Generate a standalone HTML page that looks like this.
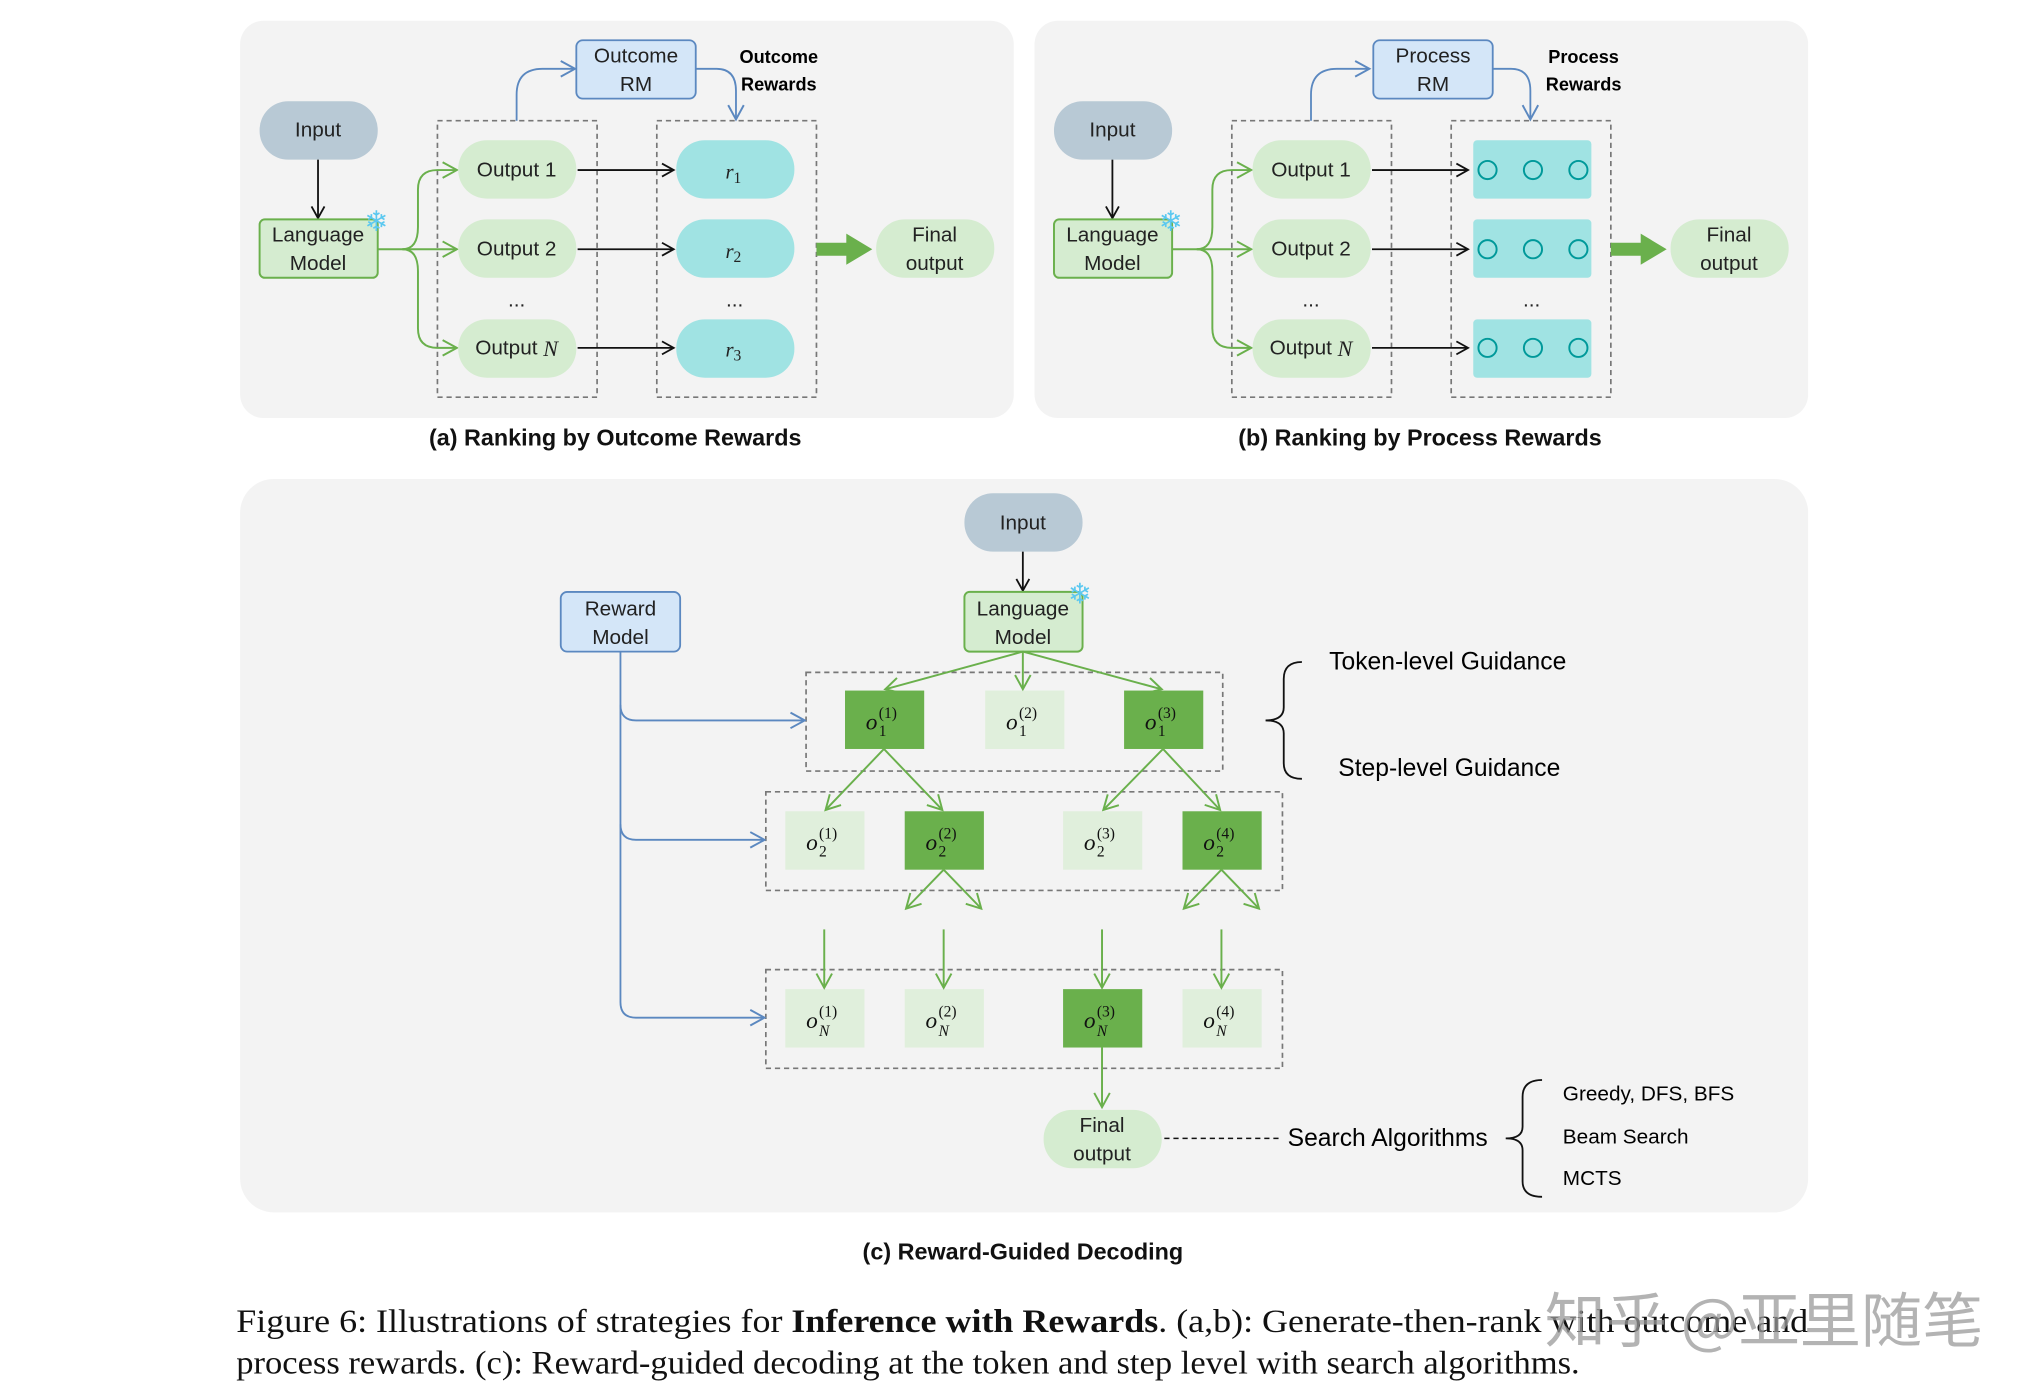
<!DOCTYPE html>
<html><head><meta charset="utf-8"><style>
html,body{margin:0;padding:0;background:#fff;}
svg{display:block;}
text{font-family:"Liberation Sans","Noto Sans CJK SC",sans-serif;}
.l{font-size:16px;fill:#222;text-anchor:middle;dominant-baseline:central;}
.m{font-family:"Liberation Serif",serif;font-style:italic;}
.ser, .ser text{font-family:"Liberation Serif",serif;}
.cjk{font-family:"Noto Sans CJK SC","WenQuanYi Zen Hei",sans-serif;}
.sf{font-family:"DejaVu Sans",sans-serif;}
.cap{font-size:18px;font-weight:bold;fill:#111;text-anchor:middle;dominant-baseline:central;}
</style></head><body>
<svg width="2034" height="1398" viewBox="0 0 1567 1077" preserveAspectRatio="none" xmlns="http://www.w3.org/2000/svg">
<defs>
<marker id="ak" markerWidth="12" markerHeight="12" refX="10" refY="6" orient="auto" markerUnits="userSpaceOnUse"><path d="M1,1 L10,6 L1,11" fill="none" stroke="#111" stroke-width="1.4"/></marker>
<marker id="ag" markerWidth="14" markerHeight="14" refX="12" refY="7" orient="auto" markerUnits="userSpaceOnUse"><path d="M1,1 L12,7 L1,13" fill="none" stroke="#6ab04c" stroke-width="1.5"/></marker>
<marker id="ab" markerWidth="14" markerHeight="14" refX="12" refY="7" orient="auto" markerUnits="userSpaceOnUse"><path d="M1,1 L12,7 L1,13" fill="none" stroke="#5b88c0" stroke-width="1.5"/></marker>
</defs>
<rect width="1567" height="1077" fill="#fff"/>
<rect x="185" y="16" width="596" height="306" rx="18" fill="#f3f3f3"/>
<rect x="797" y="16" width="596" height="306" rx="18" fill="#f3f3f3"/>
<rect x="185" y="369" width="1208" height="565" rx="26" fill="#f3f3f3"/>

<g id="pa">
<rect x="200" y="78" width="91" height="45" rx="22" fill="#b8c9d5"/><text class="l" x="245" y="100">Input</text>
<line x1="245" y1="123" x2="245" y2="168" stroke="#111" stroke-width="1.4" marker-end="url(#ak)"/>
<rect x="200" y="169" width="91" height="45" rx="4" fill="#d5ecd0" stroke="#6ab04c" stroke-width="1.5"/>
<text class="l" x="245" y="181">Language</text><text class="l" x="245" y="203">Model</text>
<text class="sf" x="290" y="178" font-size="22" fill="#5bc8f0" text-anchor="middle">❄</text>
<rect x="337" y="93" width="123" height="213" fill="none" stroke="#777" stroke-dasharray="4 3" stroke-width="1.3"/>
<rect x="506" y="93" width="123" height="213" fill="none" stroke="#777" stroke-dasharray="4 3" stroke-width="1.3"/>
<path d="M291,192 H352" stroke="#6ab04c" stroke-width="1.5" fill="none" marker-end="url(#ag)"/>
<path d="M310,192 Q322,192 322,175 V146 Q322,131 337,131 H352" stroke="#6ab04c" stroke-width="1.5" fill="none" marker-end="url(#ag)"/>
<path d="M310,192 Q322,192 322,209 V253 Q322,268 337,268 H352" stroke="#6ab04c" stroke-width="1.5" fill="none" marker-end="url(#ag)"/>
<rect x="353" y="108" width="91" height="45" rx="22" fill="#d5ecd0"/>
<rect x="353" y="169" width="91" height="45" rx="22" fill="#d5ecd0"/>
<rect x="353" y="246" width="91" height="45" rx="22" fill="#d5ecd0"/>
<text class="l" x="398" y="131">Output 1</text><text class="l" x="398" y="192">Output 2</text>
<text class="l" x="398" y="268" font-size="15">Output <tspan class="m" font-size="17">N</tspan></text>
<text class="l" x="398" y="231">...</text>
<line x1="445" y1="131" x2="519" y2="131" stroke="#111" stroke-width="1.4" marker-end="url(#ak)"/>
<line x1="445" y1="192" x2="519" y2="192" stroke="#111" stroke-width="1.4" marker-end="url(#ak)"/>
<line x1="445" y1="268" x2="519" y2="268" stroke="#111" stroke-width="1.4" marker-end="url(#ak)"/>
<path d="M398,93 V73 Q398,53 418,53 H443" stroke="#5b88c0" stroke-width="1.4" fill="none" marker-end="url(#ab)"/>
<path d="M536,53 H552 Q567,53 567,70 V92" stroke="#5b88c0" stroke-width="1.4" fill="none" marker-end="url(#ab)"/>
<polygon points="629,187 652,187 652,180 672,192 652,204 652,197 629,197" fill="#6ab04c"/>
<rect x="675" y="169" width="91" height="45" rx="22" fill="#d5ecd0"/>
<text class="l" x="720" y="181">Final</text><text class="l" x="720" y="203">output</text>
</g>
<rect x="444" y="31" width="92" height="45" rx="5" fill="#d4e6f8" stroke="#5b88c0" stroke-width="1.4"/>
<text class="l" x="490" y="43">Outcome</text><text class="l" x="490" y="65">RM</text>
<text x="600" y="44" font-size="14" font-weight="bold" text-anchor="middle" dominant-baseline="central">Outcome</text>
<text x="600" y="65" font-size="14" font-weight="bold" text-anchor="middle" dominant-baseline="central">Rewards</text>
<rect x="521" y="108" width="91" height="45" rx="22" fill="#a0e3e3"/>
<rect x="521" y="169" width="91" height="45" rx="22" fill="#a0e3e3"/>
<rect x="521" y="246" width="91" height="45" rx="22" fill="#a0e3e3"/>
<text class="l m" x="565" y="133" font-size="17">r<tspan font-size="12" font-style="normal" dy="4">1</tspan></text>
<text class="l m" x="565" y="194" font-size="17">r<tspan font-size="12" font-style="normal" dy="4">2</tspan></text>
<text class="l m" x="565" y="270" font-size="17">r<tspan font-size="12" font-style="normal" dy="4">3</tspan></text>
<text class="l" x="566" y="231">...</text>
<text class="cap" x="474" y="337">(a) Ranking by Outcome Rewards</text>

<use href="#pa" x="612"/>
<rect x="1058" y="31" width="92" height="45" rx="5" fill="#d4e6f8" stroke="#5b88c0" stroke-width="1.4"/>
<text class="l" x="1104" y="43">Process</text><text class="l" x="1104" y="65">RM</text>
<text x="1220" y="44" font-size="14" font-weight="bold" text-anchor="middle" dominant-baseline="central">Process</text>
<text x="1220" y="65" font-size="14" font-weight="bold" text-anchor="middle" dominant-baseline="central">Rewards</text>
<g fill="none" stroke="#00999a" stroke-width="1.5">
<rect x="1135" y="108" width="91" height="45" rx="3" fill="#a0e3e3" stroke="none"/>
<rect x="1135" y="169" width="91" height="45" rx="3" fill="#a0e3e3" stroke="none"/>
<rect x="1135" y="246" width="91" height="45" rx="3" fill="#a0e3e3" stroke="none"/>
<circle cx="1146" cy="131" r="7"/><circle cx="1181" cy="131" r="7"/><circle cx="1216" cy="131" r="7"/>
<circle cx="1146" cy="192" r="7"/><circle cx="1181" cy="192" r="7"/><circle cx="1216" cy="192" r="7"/>
<circle cx="1146" cy="268" r="7"/><circle cx="1181" cy="268" r="7"/><circle cx="1216" cy="268" r="7"/>
</g>
<text class="l" x="1180" y="231">...</text>
<text class="cap" x="1094" y="337">(b) Ranking by Process Rewards</text>

<rect x="743" y="380" width="91" height="45" rx="22" fill="#b8c9d5"/><text class="l" x="788" y="403">Input</text>
<line x1="788" y1="425" x2="788" y2="455" stroke="#111" stroke-width="1.4" marker-end="url(#ak)"/>
<rect x="743" y="456" width="91" height="46" rx="4" fill="#d5ecd0" stroke="#6ab04c" stroke-width="1.5"/>
<text class="l" x="788" y="469">Language</text><text class="l" x="788" y="491">Model</text>
<text class="sf" x="832" y="465" font-size="22" fill="#5bc8f0" text-anchor="middle">❄</text>
<rect x="432" y="456" width="92" height="46" rx="5" fill="#d4e6f8" stroke="#5b88c0" stroke-width="1.4"/>
<text class="l" x="478" y="469">Reward</text><text class="l" x="478" y="491">Model</text>

<g fill="none" stroke="#777" stroke-dasharray="4 3" stroke-width="1.3">
<rect x="621" y="518" width="321" height="76"/>
<rect x="590" y="610" width="398" height="76"/>
<rect x="590" y="747" width="398" height="76"/>
</g>
<g fill="none" stroke="#5b88c0" stroke-width="1.4">
<path d="M478,502 V772 Q478,784 490,784 H589" marker-end="url(#ab)"/>
<path d="M478,543 Q478,555 490,555 H620" marker-end="url(#ab)"/>
<path d="M478,635 Q478,647 490,647 H589" marker-end="url(#ab)"/>
</g>
<g>
<rect x="651" y="532" width="61" height="45" fill="#6ab04c"/>
<rect x="759" y="532" width="61" height="45" fill="#e0efdc"/>
<rect x="866" y="532" width="61" height="45" fill="#6ab04c"/>
<rect x="605" y="625" width="61" height="45" fill="#e0efdc"/>
<rect x="697" y="625" width="61" height="45" fill="#6ab04c"/>
<rect x="819" y="625" width="61" height="45" fill="#e0efdc"/>
<rect x="911" y="625" width="61" height="45" fill="#6ab04c"/>
<rect x="605" y="762" width="61" height="45" fill="#e0efdc"/>
<rect x="697" y="762" width="61" height="45" fill="#e0efdc"/>
<rect x="819" y="762" width="61" height="45" fill="#6ab04c"/>
<rect x="911" y="762" width="61" height="45" fill="#e0efdc"/>
</g>
<g class="ser" fill="#111">
<g font-size="18" font-style="italic">
<text x="667" y="562">o</text><text x="775" y="562">o</text><text x="882" y="562">o</text>
<text x="621" y="655">o</text><text x="713" y="655">o</text><text x="835" y="655">o</text><text x="927" y="655">o</text>
<text x="621" y="792">o</text><text x="713" y="792">o</text><text x="835" y="792">o</text><text x="927" y="792">o</text>
</g>
<g font-size="12">
<text x="677" y="567">1</text><text x="785" y="567">1</text><text x="892" y="567">1</text>
<text x="677" y="553">(1)</text><text x="785" y="553">(2)</text><text x="892" y="553">(3)</text>
<text x="631" y="660">2</text><text x="723" y="660">2</text><text x="845" y="660">2</text><text x="937" y="660">2</text>
<text x="631" y="646">(1)</text><text x="723" y="646">(2)</text><text x="845" y="646">(3)</text><text x="937" y="646">(4)</text>
<text x="631" y="798" font-style="italic">N</text><text x="723" y="798" font-style="italic">N</text><text x="845" y="798" font-style="italic">N</text><text x="937" y="798" font-style="italic">N</text>
<text x="631" y="783">(1)</text><text x="723" y="783">(2)</text><text x="845" y="783">(3)</text><text x="937" y="783">(4)</text>
</g></g>
<g stroke="#6ab04c" stroke-width="1.5" fill="none">
<line x1="788" y1="502" x2="682" y2="531" marker-end="url(#ag)"/>
<line x1="788" y1="502" x2="788" y2="531" marker-end="url(#ag)"/>
<line x1="788" y1="502" x2="895" y2="531" marker-end="url(#ag)"/>
<line x1="681" y1="577" x2="636" y2="624" marker-end="url(#ag)"/>
<line x1="681" y1="577" x2="726" y2="624" marker-end="url(#ag)"/>
<line x1="896" y1="577" x2="850" y2="624" marker-end="url(#ag)"/>
<line x1="896" y1="577" x2="940" y2="624" marker-end="url(#ag)"/>
<line x1="727" y1="670" x2="698" y2="700" marker-end="url(#ag)"/>
<line x1="727" y1="670" x2="756" y2="700" marker-end="url(#ag)"/>
<line x1="941" y1="670" x2="912" y2="700" marker-end="url(#ag)"/>
<line x1="941" y1="670" x2="970" y2="700" marker-end="url(#ag)"/>
<line x1="635" y1="716" x2="635" y2="761" marker-end="url(#ag)"/>
<line x1="727" y1="716" x2="727" y2="761" marker-end="url(#ag)"/>
<line x1="849" y1="716" x2="849" y2="761" marker-end="url(#ag)"/>
<line x1="941" y1="716" x2="941" y2="761" marker-end="url(#ag)"/>
<line x1="849" y1="807" x2="849" y2="853" marker-end="url(#ag)"/>
</g>
<rect x="804" y="855" width="91" height="45" rx="22" fill="#d5ecd0"/>
<text class="l" x="849" y="867">Final</text><text class="l" x="849" y="889">output</text>
<line x1="897" y1="877" x2="985" y2="877" stroke="#111" stroke-width="1.2" stroke-dasharray="4 3"/>
<text x="992" y="877" font-size="19" dominant-baseline="central">Search Algorithms</text>
<path d="M1188,832 Q1173,832 1173,845 V868 Q1173,877 1160,877 Q1173,877 1173,886 V910 Q1173,922 1188,922" fill="none" stroke="#111" stroke-width="1.4"/>
<text x="1204" y="843" font-size="16" dominant-baseline="central">Greedy, DFS, BFS</text>
<text x="1204" y="876" font-size="16" dominant-baseline="central">Beam Search</text>
<text x="1204" y="908" font-size="16" dominant-baseline="central">MCTS</text>
<path d="M1003,510 Q989,510 989,523 V545 Q989,555 975,555 Q989,555 989,565 V588 Q989,600 1003,600" fill="none" stroke="#111" stroke-width="1.4"/>
<text x="1024" y="510" font-size="19" dominant-baseline="central">Token-level Guidance</text>
<text x="1031" y="592" font-size="19" dominant-baseline="central">Step-level Guidance</text>
<text class="cap" x="788" y="964">(c) Reward-Guided Decoding</text>

<g class="ser" font-size="25" fill="#111">
<text x="182" y="1026" textLength="1211" lengthAdjust="spacingAndGlyphs">Figure 6: Illustrations of strategies for <tspan font-weight="bold">Inference with Rewards</tspan>. (a,b): Generate-then-rank with outcome and</text>
<text x="182" y="1058" textLength="1035" lengthAdjust="spacingAndGlyphs">process rewards. (c): Reward-guided decoding at the token and step level with search algorithms.</text>
</g>
<text class="cjk" x="1190" y="1034" font-size="46" fill="#9a9a9a" fill-opacity="0.75" textLength="338" lengthAdjust="spacingAndGlyphs">知乎 @亚里随笔</text>
</svg>
</body></html>
